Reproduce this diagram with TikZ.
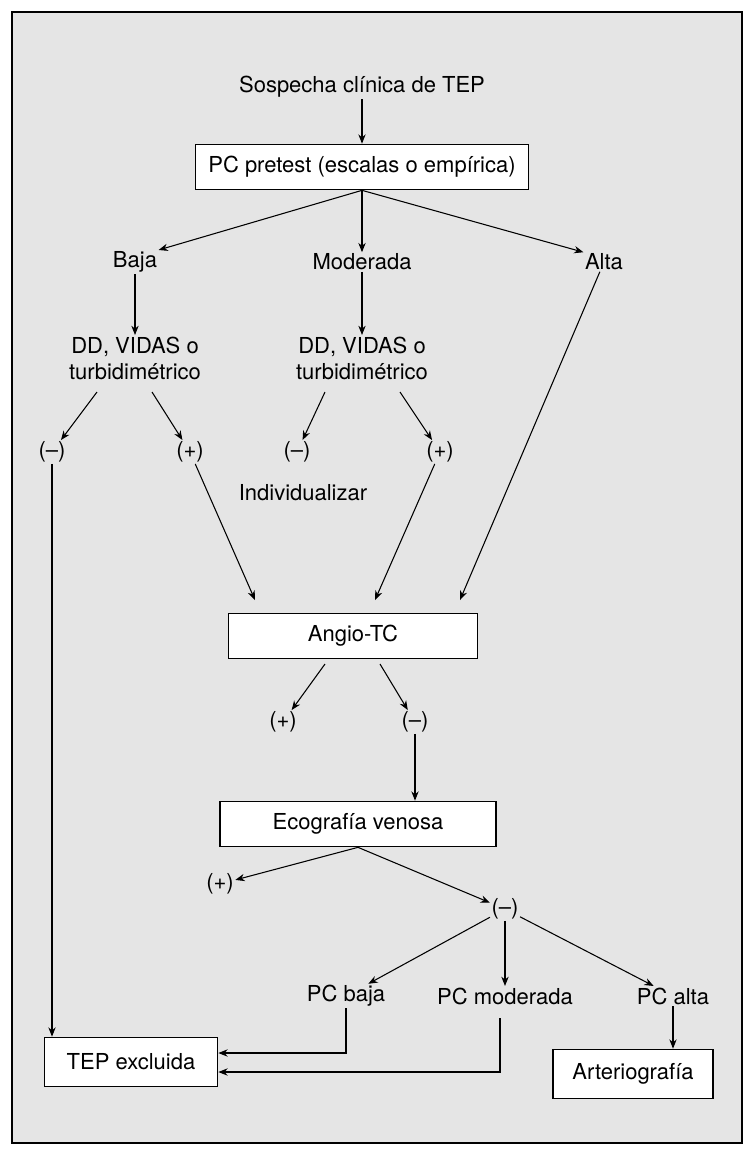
\documentclass[tikz,border=0pt]{standalone}
\usepackage{fontspec}
\setmainfont{TeX Gyre Heros}
\usetikzlibrary{arrows.meta}
\begin{document}
\begin{tikzpicture}[x=0.75pt,y=-0.75pt,
  txt/.style={font=\fontsize{16.5}{19.5}\selectfont,inner sep=1pt,align=center},
  box/.style={txt,draw,fill=white,line width=1pt,minimum height=34pt},
  arr/.style={-{Stealth[length=7pt,width=5.5pt]},line width=0.8pt}]
\useasboundingbox (0,0) rectangle (754,1157);
\draw[fill=black!10,line width=1.5pt] (12,12) rectangle (742,1143);
\node[txt] (s) at (362,87) {Sospecha clínica de TEP};
\node[box,minimum width=250pt] (pc) at (362,167) {PC pretest (escalas o empírica)};
\node[txt] (baja) at (135,262) {Baja};
\node[txt] (mod) at (362,262) {Moderada};
\node[txt] (alta) at (604,262) {Alta};
\node[txt] (dd1) at (135,358) {DD, VIDAS o\\turbidimétrico};
\node[txt] (dd2) at (362,358) {DD, VIDAS o\\turbidimétrico};
\node[txt] (m1) at (52,452) {(--)};
\node[txt] (p1) at (190,452) {(+)};
\node[txt] (m2) at (297,452) {(--)};
\node[txt] (p2) at (440,452) {(+)};
\node[txt] (ind) at (303,493) {Individualizar};
\node[box,minimum width=187pt] (ang) at (353,636) {Angio-TC};
\node[txt] (p3) at (283,722) {(+)};
\node[txt] (m3) at (415,722) {(--)};
\node[box,minimum width=207pt] (eco) at (358,824) {Ecografía venosa};
\node[txt] (p4) at (220,884) {(+)};
\node[txt] (m4) at (505,909) {(--)};
\node[txt] (pcb) at (346,996) {PC baja};
\node[txt] (pcm) at (505,996) {PC moderada};
\node[txt] (pca) at (673,996) {PC alta};
\node[box,minimum width=130pt,minimum height=37pt] (tep) at (131,1062) {TEP excluida};
\node[box,minimum width=120pt,minimum height=37pt] (art) at (633,1074) {Arteriografía};
\draw[arr] (s) -- (pc);
\draw[arr] (pc.south) -- (baja.north east);
\draw[arr] (pc.south) -- (mod);
\draw[arr] (pc.south) -- (alta.north west);
\draw[arr] (baja) -- (dd1);
\draw[arr] (mod) -- (dd2);
\draw[arr] (97,392) -- (m1);
\draw[arr] (152,392) -- (p1);
\draw[arr] (325,392) -- (m2);
\draw[arr] (400,392) -- (p2);
\draw[arr] (m1) -- (m1|-tep.north);
\draw[arr] (p1) -- (255,600);
\draw[arr] (p2) -- (375,600);
\draw[arr] (alta) -- (460,600);
\draw[arr] (325,664) -- (p3);
\draw[arr] (380,664) -- (m3);
\draw[arr] (m3) -- (m3|-eco.north);
\draw[arr] (eco.south) -- (p4);
\draw[arr] (eco.south) -- (m4);
\draw[arr] (m4) -- (pcb);
\draw[arr] (m4) -- (pcm);
\draw[arr] (m4) -- (pca);
\draw[arr] (pca) -- (pca|-art.north);
\draw[arr] (pcb.south) -- (346,1053) -- (tep.east|-0,1053);
\draw[arr] (500,1018) -- (500,1072) -- (tep.east|-0,1072);
\end{tikzpicture}
\end{document}
